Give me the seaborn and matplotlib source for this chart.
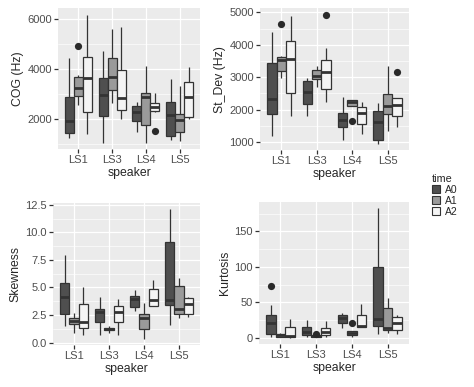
import numpy as np
import pandas as pd
import matplotlib
matplotlib.use("Agg")
import matplotlib.pyplot as plt
from matplotlib.patches import Patch
from matplotlib.ticker import MultipleLocator, AutoMinorLocator
import seaborn as sns

speakers = ["LS1", "LS3", "LS4", "LS5"]
times = ["A0", "A1", "A2"]

# five-number summaries: [min, q1, median, q3, max] per speaker
cog_a0 = [[1230, 1410, 1910, 2890, 4430], [1040, 2110, 2970, 3640, 4730],
          [1470, 1890, 2290, 2510, 2690], [1150, 1310, 2170, 2670, 3600]]
cog_a1 = [[2560, 2910, 3230, 3690, 3750], [2630, 3170, 3670, 4450, 5600],
          [1040, 1760, 2870, 3050, 4130], [1090, 1470, 1970, 2210, 3330]]
cog_a2 = [[1400, 2290, 3630, 4470, 6200], [2000, 2360, 2830, 3960, 5690],
          [2290, 2300, 2470, 2630, 3030], [2000, 2070, 2870, 3470, 4090]]
cog_out = [("LS1", "A1", 4930), ("LS4", "A2", 1490)]

sd_a0 = [[1190, 1860, 2330, 3450, 4390], [1790, 2170, 2540, 2870, 2990],
         [1070, 1460, 1690, 1890, 2400], [950, 1070, 1630, 1960, 2200]]
sd_a1 = [[2960, 3200, 3530, 3630, 3650], [2710, 2940, 3040, 3220, 3350],
         [2100, 2100, 2250, 2300, 2300], [1330, 1860, 2100, 2480, 3350]]
sd_a2 = [[1810, 2510, 3560, 4130, 4890], [2230, 2630, 3160, 3530, 3890],
         [1260, 1560, 1890, 2070, 2220], [1450, 1790, 2140, 2350, 2350]]
sd_out = [("LS1", "A1", 4630), ("LS3", "A2", 4930), ("LS4", "A1", 1665), ("LS5", "A2", 3150)]

skew_a0 = [[1.49, 2.56, 4.18, 5.40, 7.99], [0.67, 1.83, 2.74, 3.02, 4.18],
           [2.87, 3.26, 3.93, 4.27, 4.73], [1.59, 3.41, 3.87, 9.15, 12.1]]
skew_a1 = [[0.88, 1.68, 1.98, 2.26, 2.65], [0.88, 1.10, 1.25, 1.37, 1.49],
           [0.37, 1.22, 2.20, 2.56, 3.63], [2.26, 2.56, 3.05, 5.09, 5.85]]
skew_a2 = [[0.67, 1.34, 1.89, 3.51, 5.03], [0.67, 1.89, 2.74, 3.32, 3.96],
           [3.35, 3.36, 3.84, 4.88, 5.70], [2.32, 2.56, 3.48, 4.09, 4.18]]
skew_out = []

kurt_a0 = [[1, 5.7, 20, 32.4, 46.2], [0.5, 3.3, 8.1, 14.3, 24.8],
           [13.3, 20.5, 28.1, 31.9, 34.3], [5.7, 16.7, 26.2, 100, 183]]
kurt_a1 = [[0.3, 1.4, 3.8, 5.7, 7], [0.2, 0.8, 1.8, 3.0, 4.0],
           [1, 3.8, 7.1, 9.5, 9.5], [7.1, 11, 13.3, 41.4, 56.2]]
kurt_a2 = [[0, 0.5, 2.4, 14.3, 26.2], [1, 3.3, 8.1, 12.9, 22.9],
           [15.2, 15.5, 16.7, 32.4, 47.6], [5.7, 10.5, 20, 28.6, 32.4]]
kurt_out = [("LS1", "A0", 72.9), ("LS3", "A1", 5.5), ("LS4", "A1", 20)]

fills = {"A0": "#4f4f4f", "A1": "#9a9a9a", "A2": "#f4f4f4"}
edge = "#333333"


def long_table(a0, a1, a2):
    rows = []
    for t, stats in zip(times, (a0, a1, a2)):
        for spk, five in zip(speakers, stats):
            for v in five:
                rows.append((spk, t, v))
    return pd.DataFrame(rows, columns=["speaker", "time", "value"])


sns.set_style("darkgrid", {"axes.facecolor": "#EBEBEB", "grid.color": "white"})
plt.rcParams["font.family"] = ["Liberation Sans", "DejaVu Sans"]

fig = plt.figure(figsize=(4.74, 3.87), dpi=100)

panels = [
    ("COG (Hz)", cog_a0, cog_a1, cog_a2, cog_out, 2000, [0.1224, 0.615, 0.2996, 0.364]),
    ("St_Dev (Hz)", sd_a0, sd_a1, sd_a2, sd_out, 1000, [0.5485, 0.612, 0.3143, 0.367]),
    ("Skewness", skew_a0, skew_a1, skew_a2, skew_out, 2.5, [0.1118, 0.1085, 0.310, 0.3677]),
    ("Kurtosis", kurt_a0, kurt_a1, kurt_a2, kurt_out, 50, [0.5464, 0.111, 0.3165, 0.368]),
]

for ylabel, a0, a1, a2, outl, step, rect in panels:
    ax = fig.add_axes(rect)
    df = long_table(a0, a1, a2)
    sns.boxplot(data=df, x="speaker", y="value", hue="time", order=speakers,
                hue_order=times, palette=fills, width=0.8, gap=0, whis=(0, 100),
                showcaps=False, fliersize=0, linecolor=edge, linewidth=0.9,
                medianprops={"linewidth": 2.0}, legend=False, ax=ax)
    if outl:
        odf = pd.DataFrame(outl, columns=["speaker", "time", "value"])
        sns.stripplot(data=odf, x="speaker", y="value", hue="time", order=speakers,
                      hue_order=times, dodge=True, jitter=False,
                      palette={t: "#2a2a2a" for t in times}, size=5.2,
                      linewidth=0, legend=False, ax=ax)
    ax.set_xlim(-0.6, 3.6)
    ax.yaxis.set_major_locator(MultipleLocator(step))
    ax.yaxis.set_minor_locator(AutoMinorLocator(2))
    ax.set_axisbelow(True)
    ax.grid(which="major", color="white", linewidth=0.9)
    ax.grid(which="minor", axis="y", color="white", linewidth=0.45)
    for s in ax.spines.values():
        s.set_visible(False)
    ax.tick_params(axis="both", which="major", bottom=True, left=True, length=2.6,
                   width=0.9, color=edge, pad=1.8, labelsize=8, labelcolor="#4D4D4D")
    ax.tick_params(axis="y", which="minor", left=False, length=0)
    ax.set_xlabel("speaker", fontsize=8.8, labelpad=1.5)
    ax.set_ylabel(ylabel, fontsize=8.8, labelpad=2.5)

handles = [Patch(facecolor=fills[t], edgecolor=edge, linewidth=0.8, label=t) for t in times]
fig.legend(handles=handles, title="time", loc="upper left", bbox_to_anchor=(0.9, 0.565),
           frameon=False, fontsize=7.5, title_fontsize=7.8, handlelength=0.8,
           handleheight=0.7, labelspacing=0.1, handletextpad=0.5, borderpad=0,
           alignment="left")

fig.savefig("out.png", dpi=100)
